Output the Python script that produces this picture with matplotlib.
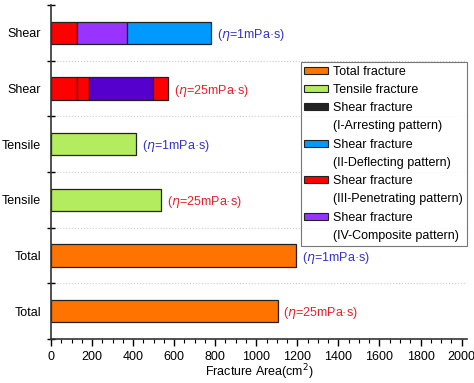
import matplotlib.pyplot as plt
from matplotlib.patches import Patch
from matplotlib.ticker import MultipleLocator

plt.rcParams['font.family'] = ['Liberation Sans', 'DejaVu Sans']

row_labels = ['Shear', 'Shear', 'Tensile', 'Tensile', 'Total', 'Total']
viscosity = ['1', '25', '1', '25', '1', '25']

# stacked segments for the shear rows (left to right)
shear1_segments = [125, 243, 412]
shear1_colors = ['#ff0000', '#9933ff', '#0099ff']
shear25_segments = [128, 55, 313, 76]
shear25_colors = ['#ff0000', '#ff0000', '#5500cc', '#ff0000']

tensile_values = [413, 537]
total_values = [1194, 1104]

# legend: second lines get an empty handle so the swatch sits on the first line
legend_labels = ['Total fracture', 'Tensile fracture',
                 'Shear fracture', '(I-Arresting pattern)',
                 'Shear fracture', '(II-Deflecting pattern)',
                 'Shear fracture', '(III-Penetrating pattern)',
                 'Shear fracture', '(IV-Composite pattern)']
legend_colors = ['#ff7300', '#b3ec5e', '#222222', None, '#0099ff', None,
                 '#ff0000', None, '#9933ff', None]

fig = plt.figure(figsize=(4.74, 3.83), dpi=100)
ax = fig.add_axes([0.1076, 0.115, 0.877, 0.872])

h = 0.4
ypos = [5, 4, 3, 2, 1, 0]

left = 0
for w, c in zip(shear1_segments, shear1_colors):
    ax.barh(ypos[0], w, left=left, height=h, color=c, edgecolor='#222222', linewidth=0.9)
    left += w
ends = [left]

left = 0
for w, c in zip(shear25_segments, shear25_colors):
    ax.barh(ypos[1], w, left=left, height=h, color=c, edgecolor='#222222', linewidth=0.9)
    left += w
ends.append(left)

for i, v in enumerate(tensile_values):
    ax.barh(ypos[2 + i], v, height=h, color='#b3ec5e', edgecolor='#222222', linewidth=0.9)
    ends.append(v)
for i, v in enumerate(total_values):
    ax.barh(ypos[4 + i], v, height=h, color='#ff7300', edgecolor='#222222', linewidth=0.9)
    ends.append(v)

for y, e, vis in zip(ypos, ends, viscosity):
    col = '#3333cc' if vis == '1' else '#e8202a'
    ax.text(e + 28, y - 0.04, r'($\mathit{\eta}$=' + vis + 'mPa·s)', color=col,
            fontsize=9, va='center', ha='left')

ax.set_ylim(-0.5, 5.5)
ax.set_xlim(0, 2025)
ax.set_yticks(ypos)
ax.set_yticklabels(row_labels, fontsize=9)
ax.set_yticks([-0.5, 0.5, 1.5, 2.5, 3.5, 4.5, 5.5], minor=True)
ax.tick_params(axis='y', which='major', length=0, pad=7)
ax.tick_params(axis='y', which='minor', direction='inout', length=6, width=1)
ax.xaxis.set_major_locator(MultipleLocator(200))
ax.xaxis.set_minor_locator(MultipleLocator(50))
ax.tick_params(axis='x', which='major', direction='out', length=5, width=1, labelsize=9)
ax.tick_params(axis='x', which='minor', direction='out', length=3, width=0.8)

for yb in [0.5, 1.5, 2.5, 3.5, 4.5]:
    ax.axhline(yb, color='#cccccc', linestyle=':', linewidth=0.8, zorder=0)

ax.spines['top'].set_visible(False)
ax.spines['right'].set_visible(False)
ax.spines['left'].set_linewidth(1.2)
ax.spines['bottom'].set_linewidth(1.2)
ax.spines['left'].set_color('#333333')
ax.spines['bottom'].set_color('#333333')

ax.set_xlabel('Fracture Area(cm$^2$)', fontsize=9, labelpad=0)

handles = []
for c in legend_colors:
    if c is None:
        handles.append(Patch(facecolor='none', edgecolor='none'))
    else:
        handles.append(Patch(facecolor=c, edgecolor='#222222', linewidth=0.8))
leg = ax.legend(handles, legend_labels, loc='upper right', bbox_to_anchor=(1.0, 0.83),
                fontsize=9, frameon=True, fancybox=False, edgecolor='#555555',
                handlelength=1.9, handleheight=0.5, handletextpad=0.4,
                labelspacing=0.5, borderpad=0.3, borderaxespad=0.0)
leg.get_frame().set_linewidth(0.8)

fig.savefig('out.png', dpi=100)
